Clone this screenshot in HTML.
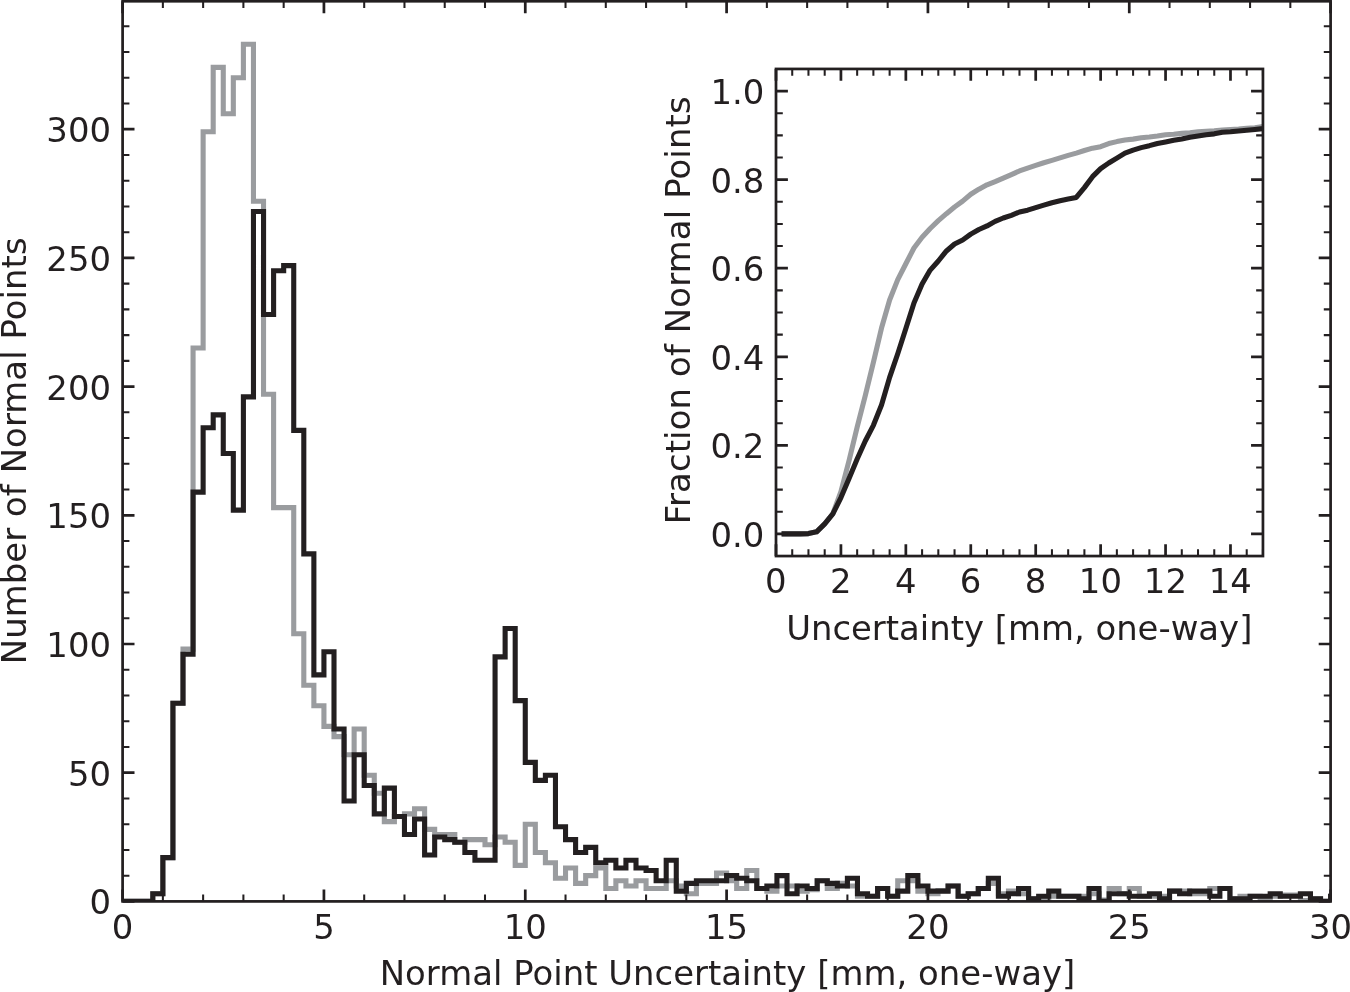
<!DOCTYPE html>
<html><head><meta charset="utf-8"><title>Normal Point Uncertainty</title>
<style>html,body{margin:0;padding:0;background:#fff;overflow:hidden}svg{display:block}</style></head>
<body>
<svg width="1350" height="992" viewBox="0 0 1350 992">
<defs><clipPath id="cm"><rect x="122.6" y="1.26" width="1208.0" height="900.14"/></clipPath>
<clipPath id="ci"><rect x="776.0" y="68.95" width="486.95000000000005" height="487.09999999999997"/></clipPath></defs>
<rect width="1350" height="992" fill="#fff"/>
<g clip-path="url(#cm)" fill="none" stroke-width="5.1" stroke-linejoin="miter" stroke-linecap="butt">
<path d="M122.60 901.40 L122.60 901.40 L132.67 901.40 L132.67 901.40 L142.73 901.40 L142.73 901.40 L152.80 901.40 L152.80 893.68 L162.87 893.68 L162.87 857.64 L172.93 857.64 L172.93 703.20 L183.00 703.20 L183.00 649.15 L193.07 649.15 L193.07 347.99 L203.13 347.99 L203.13 131.77 L213.20 131.77 L213.20 67.42 L223.27 67.42 L223.27 113.76 L233.33 113.76 L233.33 77.72 L243.40 77.72 L243.40 44.26 L253.47 44.26 L253.47 201.27 L263.53 201.27 L263.53 394.32 L273.60 394.32 L273.60 507.58 L283.67 507.58 L283.67 507.58 L293.73 507.58 L293.73 633.70 L303.80 633.70 L303.80 685.18 L313.87 685.18 L313.87 705.78 L323.93 705.78 L323.93 726.37 L334.00 726.37 L334.00 736.66 L344.07 736.66 L344.07 754.68 L354.13 754.68 L354.13 728.94 L364.20 728.94 L364.20 775.27 L374.27 775.27 L374.27 793.29 L384.33 793.29 L384.33 821.61 L394.40 821.61 L394.40 816.46 L404.47 816.46 L404.47 813.88 L414.53 813.88 L414.53 808.74 L424.60 808.74 L424.60 829.33 L434.67 829.33 L434.67 834.48 L444.73 834.48 L444.73 834.48 L454.80 834.48 L454.80 842.20 L464.87 842.20 L464.87 839.62 L474.93 839.62 L474.93 839.62 L485.00 839.62 L485.00 844.77 L495.07 844.77 L495.07 837.05 L505.13 837.05 L505.13 842.20 L515.20 842.20 L515.20 865.36 L525.27 865.36 L525.27 824.18 L535.33 824.18 L535.33 852.49 L545.40 852.49 L545.40 862.79 L555.47 862.79 L555.47 878.23 L565.53 878.23 L565.53 867.94 L575.60 867.94 L575.60 883.38 L585.67 883.38 L585.67 875.66 L595.73 875.66 L595.73 867.94 L605.80 867.94 L605.80 888.53 L615.87 888.53 L615.87 880.81 L625.93 880.81 L625.93 885.96 L636.00 885.96 L636.00 880.81 L646.07 880.81 L646.07 888.53 L656.13 888.53 L656.13 888.53 L666.20 888.53 L666.20 880.81 L676.27 880.81 L676.27 885.96 L686.33 885.96 L686.33 893.68 L696.40 893.68 L696.40 883.38 L706.47 883.38 L706.47 883.38 L716.53 883.38 L716.53 873.09 L726.60 873.09 L726.60 880.81 L736.67 880.81 L736.67 888.53 L746.73 888.53 L746.73 870.51 L756.80 870.51 L756.80 888.53 L766.87 888.53 L766.87 891.10 L776.93 891.10 L776.93 885.96 L787.00 885.96 L787.00 885.96 L797.07 885.96 L797.07 891.10 L807.13 891.10 L807.13 889.82 L817.20 889.82 L817.20 880.81 L827.27 880.81 L827.27 888.53 L837.33 888.53 L837.33 883.38 L847.40 883.38 L847.40 885.96 L857.47 885.96 L857.47 896.25 L867.53 896.25 L867.53 896.25 L877.60 896.25 L877.60 888.53 L887.67 888.53 L887.67 896.25 L897.73 896.25 L897.73 880.81 L907.80 880.81 L907.80 880.81 L917.87 880.81 L917.87 891.10 L927.93 891.10 L927.93 893.68 L938.00 893.68 L938.00 890.59 L948.07 890.59 L948.07 885.96 L958.13 885.96 L958.13 896.25 L968.20 896.25 L968.20 893.68 L978.27 893.68 L978.27 888.53 L988.33 888.53 L988.33 883.38 L998.40 883.38 L998.40 893.68 L1008.47 893.68 L1008.47 891.10 L1018.53 891.10 L1018.53 893.68 L1028.60 893.68 L1028.60 898.83 L1038.67 898.83 L1038.67 898.83 L1048.73 898.83 L1048.73 896.25 L1058.80 896.25 L1058.80 896.25 L1068.87 896.25 L1068.87 896.25 L1078.93 896.25 L1078.93 896.25 L1089.00 896.25 L1089.00 893.68 L1099.07 893.68 L1099.07 900.11 L1109.13 900.11 L1109.13 888.53 L1119.20 888.53 L1119.20 893.68 L1129.27 893.68 L1129.27 888.53 L1139.33 888.53 L1139.33 896.25 L1149.40 896.25 L1149.40 896.25 L1159.47 896.25 L1159.47 896.25 L1169.53 896.25 L1169.53 891.10 L1179.60 891.10 L1179.60 891.10 L1189.67 891.10 L1189.67 893.68 L1199.73 893.68 L1199.73 893.68 L1209.80 893.68 L1209.80 888.53 L1219.87 888.53 L1219.87 888.53 L1229.93 888.53 L1229.93 898.83 L1240.00 898.83 L1240.00 896.25 L1250.07 896.25 L1250.07 896.25 L1260.13 896.25 L1260.13 898.83 L1270.20 898.83 L1270.20 896.25 L1280.27 896.25 L1280.27 894.97 L1290.33 894.97 L1290.33 894.97 L1300.40 894.97 L1300.40 900.63 L1310.47 900.63 L1310.47 898.83 L1320.53 898.83 L1320.53 901.40 L1330.60 901.40 L1330.60 896.25 L1340.67 896.25 L1340.67 901.40" stroke="#9a9c9f"/>
<path d="M122.60 901.40 L122.60 901.40 L132.67 901.40 L132.67 901.40 L142.73 901.40 L142.73 901.40 L152.80 901.40 L152.80 893.68 L162.87 893.68 L162.87 857.64 L172.93 857.64 L172.93 703.20 L183.00 703.20 L183.00 654.30 L193.07 654.30 L193.07 492.13 L203.13 492.13 L203.13 427.78 L213.20 427.78 L213.20 414.91 L223.27 414.91 L223.27 453.52 L233.33 453.52 L233.33 510.15 L243.40 510.15 L243.40 396.90 L253.47 396.90 L253.47 211.57 L263.53 211.57 L263.53 314.53 L273.60 314.53 L273.60 270.77 L283.67 270.77 L283.67 265.62 L293.73 265.62 L293.73 430.36 L303.80 430.36 L303.80 553.91 L313.87 553.91 L313.87 674.89 L323.93 674.89 L323.93 651.72 L334.00 651.72 L334.00 728.94 L344.07 728.94 L344.07 801.01 L354.13 801.01 L354.13 754.68 L364.20 754.68 L364.20 785.57 L374.27 785.57 L374.27 813.88 L384.33 813.88 L384.33 788.14 L394.40 788.14 L394.40 816.46 L404.47 816.46 L404.47 834.48 L414.53 834.48 L414.53 819.03 L424.60 819.03 L424.60 855.07 L434.67 855.07 L434.67 837.05 L444.73 837.05 L444.73 839.62 L454.80 839.62 L454.80 842.20 L464.87 842.20 L464.87 852.49 L474.93 852.49 L474.93 860.22 L485.00 860.22 L485.00 860.22 L495.07 860.22 L495.07 656.87 L505.13 656.87 L505.13 628.56 L515.20 628.56 L515.20 700.63 L525.27 700.63 L525.27 762.40 L535.33 762.40 L535.33 780.42 L545.40 780.42 L545.40 775.27 L555.47 775.27 L555.47 826.75 L565.53 826.75 L565.53 839.62 L575.60 839.62 L575.60 852.49 L585.67 852.49 L585.67 847.35 L595.73 847.35 L595.73 862.79 L605.80 862.79 L605.80 860.22 L615.87 860.22 L615.87 867.94 L625.93 867.94 L625.93 860.22 L636.00 860.22 L636.00 867.94 L646.07 867.94 L646.07 870.51 L656.13 870.51 L656.13 880.81 L666.20 880.81 L666.20 860.22 L676.27 860.22 L676.27 891.10 L686.33 891.10 L686.33 883.38 L696.40 883.38 L696.40 880.81 L706.47 880.81 L706.47 880.81 L716.53 880.81 L716.53 880.81 L726.60 880.81 L726.60 875.66 L736.67 875.66 L736.67 878.23 L746.73 878.23 L746.73 880.81 L756.80 880.81 L756.80 888.53 L766.87 888.53 L766.87 885.96 L776.93 885.96 L776.93 875.66 L787.00 875.66 L787.00 893.68 L797.07 893.68 L797.07 885.96 L807.13 885.96 L807.13 888.53 L817.20 888.53 L817.20 880.81 L827.27 880.81 L827.27 883.38 L837.33 883.38 L837.33 885.96 L847.40 885.96 L847.40 878.23 L857.47 878.23 L857.47 893.68 L867.53 893.68 L867.53 896.25 L877.60 896.25 L877.60 888.53 L887.67 888.53 L887.67 896.25 L897.73 896.25 L897.73 891.10 L907.80 891.10 L907.80 875.66 L917.87 875.66 L917.87 885.96 L927.93 885.96 L927.93 891.10 L938.00 891.10 L938.00 891.10 L948.07 891.10 L948.07 885.96 L958.13 885.96 L958.13 896.25 L968.20 896.25 L968.20 893.68 L978.27 893.68 L978.27 888.53 L988.33 888.53 L988.33 878.23 L998.40 878.23 L998.40 896.25 L1008.47 896.25 L1008.47 893.68 L1018.53 893.68 L1018.53 888.53 L1028.60 888.53 L1028.60 898.83 L1038.67 898.83 L1038.67 896.25 L1048.73 896.25 L1048.73 891.10 L1058.80 891.10 L1058.80 896.25 L1068.87 896.25 L1068.87 896.25 L1078.93 896.25 L1078.93 898.83 L1089.00 898.83 L1089.00 888.53 L1099.07 888.53 L1099.07 901.40 L1109.13 901.40 L1109.13 893.68 L1119.20 893.68 L1119.20 893.68 L1129.27 893.68 L1129.27 896.25 L1139.33 896.25 L1139.33 896.25 L1149.40 896.25 L1149.40 893.68 L1159.47 893.68 L1159.47 898.83 L1169.53 898.83 L1169.53 891.10 L1179.60 891.10 L1179.60 893.68 L1189.67 893.68 L1189.67 891.10 L1199.73 891.10 L1199.73 891.10 L1209.80 891.10 L1209.80 896.25 L1219.87 896.25 L1219.87 888.53 L1229.93 888.53 L1229.93 898.83 L1240.00 898.83 L1240.00 898.83 L1250.07 898.83 L1250.07 896.25 L1260.13 896.25 L1260.13 896.25 L1270.20 896.25 L1270.20 893.68 L1280.27 893.68 L1280.27 896.25 L1290.33 896.25 L1290.33 896.25 L1300.40 896.25 L1300.40 893.68 L1310.47 893.68 L1310.47 898.83 L1320.53 898.83 L1320.53 901.40 L1330.60 901.40 L1330.60 896.25 L1340.67 896.25 L1340.67 901.40" stroke="#231f20"/>
</g>
<path d="M122.60 901.4 v-11.9 M122.60 1.26 v11.9 M323.93 901.4 v-11.9 M323.93 1.26 v11.9 M525.27 901.4 v-11.9 M525.27 1.26 v11.9 M726.60 901.4 v-11.9 M726.60 1.26 v11.9 M927.93 901.4 v-11.9 M927.93 1.26 v11.9 M1129.27 901.4 v-11.9 M1129.27 1.26 v11.9 M1330.60 901.4 v-11.9 M1330.60 1.26 v11.9 M122.6 901.40 h11.9 M1330.6 901.40 h-11.9 M122.6 772.70 h11.9 M1330.6 772.70 h-11.9 M122.6 644.00 h11.9 M1330.6 644.00 h-11.9 M122.6 515.30 h11.9 M1330.6 515.30 h-11.9 M122.6 386.60 h11.9 M1330.6 386.60 h-11.9 M122.6 257.90 h11.9 M1330.6 257.90 h-11.9 M122.6 129.20 h11.9 M1330.6 129.20 h-11.9" stroke="#231f20" stroke-width="2.72" fill="none"/>
<path d="M162.87 901.4 v-6.8 M162.87 1.26 v6.8 M203.13 901.4 v-6.8 M203.13 1.26 v6.8 M243.40 901.4 v-6.8 M243.40 1.26 v6.8 M283.67 901.4 v-6.8 M283.67 1.26 v6.8 M364.20 901.4 v-6.8 M364.20 1.26 v6.8 M404.47 901.4 v-6.8 M404.47 1.26 v6.8 M444.73 901.4 v-6.8 M444.73 1.26 v6.8 M485.00 901.4 v-6.8 M485.00 1.26 v6.8 M565.53 901.4 v-6.8 M565.53 1.26 v6.8 M605.80 901.4 v-6.8 M605.80 1.26 v6.8 M646.07 901.4 v-6.8 M646.07 1.26 v6.8 M686.33 901.4 v-6.8 M686.33 1.26 v6.8 M766.87 901.4 v-6.8 M766.87 1.26 v6.8 M807.13 901.4 v-6.8 M807.13 1.26 v6.8 M847.40 901.4 v-6.8 M847.40 1.26 v6.8 M887.67 901.4 v-6.8 M887.67 1.26 v6.8 M968.20 901.4 v-6.8 M968.20 1.26 v6.8 M1008.47 901.4 v-6.8 M1008.47 1.26 v6.8 M1048.73 901.4 v-6.8 M1048.73 1.26 v6.8 M1089.00 901.4 v-6.8 M1089.00 1.26 v6.8 M1169.53 901.4 v-6.8 M1169.53 1.26 v6.8 M1209.80 901.4 v-6.8 M1209.80 1.26 v6.8 M1250.07 901.4 v-6.8 M1250.07 1.26 v6.8 M1290.33 901.4 v-6.8 M1290.33 1.26 v6.8 M122.6 875.66 h6.8 M1330.6 875.66 h-6.8 M122.6 849.92 h6.8 M1330.6 849.92 h-6.8 M122.6 824.18 h6.8 M1330.6 824.18 h-6.8 M122.6 798.44 h6.8 M1330.6 798.44 h-6.8 M122.6 746.96 h6.8 M1330.6 746.96 h-6.8 M122.6 721.22 h6.8 M1330.6 721.22 h-6.8 M122.6 695.48 h6.8 M1330.6 695.48 h-6.8 M122.6 669.74 h6.8 M1330.6 669.74 h-6.8 M122.6 618.26 h6.8 M1330.6 618.26 h-6.8 M122.6 592.52 h6.8 M1330.6 592.52 h-6.8 M122.6 566.78 h6.8 M1330.6 566.78 h-6.8 M122.6 541.04 h6.8 M1330.6 541.04 h-6.8 M122.6 489.56 h6.8 M1330.6 489.56 h-6.8 M122.6 463.82 h6.8 M1330.6 463.82 h-6.8 M122.6 438.08 h6.8 M1330.6 438.08 h-6.8 M122.6 412.34 h6.8 M1330.6 412.34 h-6.8 M122.6 360.86 h6.8 M1330.6 360.86 h-6.8 M122.6 335.12 h6.8 M1330.6 335.12 h-6.8 M122.6 309.38 h6.8 M1330.6 309.38 h-6.8 M122.6 283.64 h6.8 M1330.6 283.64 h-6.8 M122.6 232.16 h6.8 M1330.6 232.16 h-6.8 M122.6 206.42 h6.8 M1330.6 206.42 h-6.8 M122.6 180.68 h6.8 M1330.6 180.68 h-6.8 M122.6 154.94 h6.8 M1330.6 154.94 h-6.8 M122.6 103.46 h6.8 M1330.6 103.46 h-6.8 M122.6 77.72 h6.8 M1330.6 77.72 h-6.8 M122.6 51.98 h6.8 M1330.6 51.98 h-6.8 M122.6 26.24 h6.8 M1330.6 26.24 h-6.8" stroke="#231f20" stroke-width="2.04" fill="none"/>
<rect x="122.6" y="1.26" width="1208.0" height="900.14" fill="none" stroke="#231f20" stroke-width="2.72"/>
<g font-family="'DejaVu Sans', 'Liberation Sans', sans-serif" font-size="33.87" fill="#231f20">
<text x="122.6" y="939.2" text-anchor="middle">0</text>
<text x="323.9" y="939.2" text-anchor="middle">5</text>
<text x="525.3" y="939.2" text-anchor="middle">10</text>
<text x="726.6" y="939.2" text-anchor="middle">15</text>
<text x="927.9" y="939.2" text-anchor="middle">20</text>
<text x="1129.3" y="939.2" text-anchor="middle">25</text>
<text x="1330.6" y="939.2" text-anchor="middle">30</text>
<text x="111" y="914.3" text-anchor="end">0</text>
<text x="111" y="785.6" text-anchor="end">50</text>
<text x="111" y="656.9" text-anchor="end">100</text>
<text x="111" y="528.2" text-anchor="end">150</text>
<text x="111" y="399.5" text-anchor="end">200</text>
<text x="111" y="270.8" text-anchor="end">250</text>
<text x="111" y="142.1" text-anchor="end">300</text>
<text x="727.5" y="984.85" text-anchor="middle" letter-spacing="0.032">Normal Point Uncertainty [mm, one-way]</text>
<text transform="translate(26 450.8) rotate(-90)" text-anchor="middle" letter-spacing="0.073">Number of Normal Points</text>
<text x="775.8" y="592.9" text-anchor="middle">0</text>
<text x="840.7" y="592.9" text-anchor="middle">2</text>
<text x="905.7" y="592.9" text-anchor="middle">4</text>
<text x="970.6" y="592.9" text-anchor="middle">6</text>
<text x="1035.5" y="592.9" text-anchor="middle">8</text>
<text x="1100.4" y="592.9" text-anchor="middle">10</text>
<text x="1165.4" y="592.9" text-anchor="middle">12</text>
<text x="1230.3" y="592.9" text-anchor="middle">14</text>
<text x="764.4" y="546.7" text-anchor="end">0.0</text>
<text x="764.4" y="458.1" text-anchor="end">0.2</text>
<text x="764.4" y="369.6" text-anchor="end">0.4</text>
<text x="764.4" y="281.0" text-anchor="end">0.6</text>
<text x="764.4" y="192.5" text-anchor="end">0.8</text>
<text x="764.4" y="103.9" text-anchor="end">1.0</text>
<text x="1019.25" y="640.3" text-anchor="middle">Uncertainty [mm, one-way]</text>
<text transform="translate(690 310.25) rotate(-90)" text-anchor="middle" letter-spacing="0.146">Fraction of Normal Points</text>
</g>
<g clip-path="url(#ci)" fill="none" stroke-width="5.1" stroke-linejoin="round" stroke-linecap="square">
<path d="M784.12 533.91 L792.23 533.91 L800.35 533.91 L808.46 533.60 L816.58 531.84 L824.70 523.88 L832.81 513.76 L840.93 491.54 L849.04 460.64 L857.16 427.16 L865.27 395.53 L873.39 362.47 L881.51 328.05 L889.62 299.94 L897.74 279.59 L905.85 263.77 L913.97 247.96 L922.09 237.22 L930.20 228.54 L938.32 220.68 L946.43 213.65 L954.55 207.04 L962.66 201.15 L970.78 194.23 L978.90 189.16 L987.01 184.82 L995.13 181.62 L1003.24 178.21 L1011.36 174.69 L1019.48 170.97 L1027.59 168.08 L1035.71 165.39 L1043.82 162.71 L1051.94 160.33 L1060.05 157.85 L1068.17 155.37 L1076.29 153.10 L1084.40 150.51 L1092.52 148.14 L1100.63 146.69 L1108.75 143.59 L1116.87 141.62 L1124.98 140.07 L1133.10 139.14 L1141.21 137.80 L1149.33 137.08 L1157.44 136.04 L1165.56 134.70 L1173.68 134.18 L1181.79 133.36 L1189.91 132.74 L1198.02 131.91 L1206.14 131.39 L1214.26 130.88 L1222.37 130.05 L1230.49 129.43 L1238.60 129.12 L1246.72 128.40 L1254.83 127.67 L1262.95 126.54 L1271.07 125.71 L1279.18 125.19" stroke="#9a9c9f"/>
<path d="M784.12 533.91 L792.23 533.91 L800.35 533.91 L808.46 533.60 L816.58 531.84 L824.70 523.88 L832.81 513.96 L840.93 497.53 L849.04 478.52 L857.16 458.99 L865.27 441.01 L873.39 425.30 L881.51 405.04 L889.62 377.35 L897.74 353.78 L905.85 328.47 L913.97 302.94 L922.09 284.03 L930.20 270.08 L938.32 260.98 L946.43 250.96 L954.55 244.04 L962.66 240.01 L970.78 234.12 L978.90 229.47 L987.01 225.95 L995.13 221.40 L1003.24 217.99 L1011.36 215.31 L1019.48 212.00 L1027.59 210.14 L1035.71 207.56 L1043.82 205.08 L1051.94 202.70 L1060.05 200.74 L1068.17 199.08 L1076.29 197.43 L1084.40 187.61 L1092.52 176.66 L1100.63 168.60 L1108.75 163.02 L1116.87 158.16 L1124.98 153.10 L1133.10 150.10 L1141.21 147.62 L1149.33 145.66 L1157.44 143.49 L1165.56 141.93 L1173.68 140.28 L1181.79 138.94 L1189.91 137.28 L1198.02 135.94 L1206.14 134.70 L1214.26 133.87 L1222.37 132.22 L1230.49 131.81 L1238.60 131.08 L1246.72 130.26 L1254.83 129.43 L1262.95 128.60 L1271.07 127.57 L1279.18 126.64" stroke="#231f20"/>
</g>
<path d="M776.00 556.05 v-11.9 M776.00 68.95 v11.9 M840.93 556.05 v-11.9 M840.93 68.95 v11.9 M905.85 556.05 v-11.9 M905.85 68.95 v11.9 M970.78 556.05 v-11.9 M970.78 68.95 v11.9 M1035.71 556.05 v-11.9 M1035.71 68.95 v11.9 M1100.63 556.05 v-11.9 M1100.63 68.95 v11.9 M1165.56 556.05 v-11.9 M1165.56 68.95 v11.9 M1230.49 556.05 v-11.9 M1230.49 68.95 v11.9 M776.0 533.91 h11.9 M1262.95 533.91 h-11.9 M776.0 445.35 h11.9 M1262.95 445.35 h-11.9 M776.0 356.78 h11.9 M1262.95 356.78 h-11.9 M776.0 268.22 h11.9 M1262.95 268.22 h-11.9 M776.0 179.65 h11.9 M1262.95 179.65 h-11.9 M776.0 91.09 h11.9 M1262.95 91.09 h-11.9" stroke="#231f20" stroke-width="2.72" fill="none"/>
<path d="M792.23 556.05 v-6.8 M792.23 68.95 v6.8 M808.46 556.05 v-6.8 M808.46 68.95 v6.8 M824.70 556.05 v-6.8 M824.70 68.95 v6.8 M857.16 556.05 v-6.8 M857.16 68.95 v6.8 M873.39 556.05 v-6.8 M873.39 68.95 v6.8 M889.62 556.05 v-6.8 M889.62 68.95 v6.8 M922.09 556.05 v-6.8 M922.09 68.95 v6.8 M938.32 556.05 v-6.8 M938.32 68.95 v6.8 M954.55 556.05 v-6.8 M954.55 68.95 v6.8 M987.01 556.05 v-6.8 M987.01 68.95 v6.8 M1003.24 556.05 v-6.8 M1003.24 68.95 v6.8 M1019.48 556.05 v-6.8 M1019.48 68.95 v6.8 M1051.94 556.05 v-6.8 M1051.94 68.95 v6.8 M1068.17 556.05 v-6.8 M1068.17 68.95 v6.8 M1084.40 556.05 v-6.8 M1084.40 68.95 v6.8 M1116.87 556.05 v-6.8 M1116.87 68.95 v6.8 M1133.10 556.05 v-6.8 M1133.10 68.95 v6.8 M1149.33 556.05 v-6.8 M1149.33 68.95 v6.8 M1181.79 556.05 v-6.8 M1181.79 68.95 v6.8 M1198.02 556.05 v-6.8 M1198.02 68.95 v6.8 M1214.26 556.05 v-6.8 M1214.26 68.95 v6.8 M1246.72 556.05 v-6.8 M1246.72 68.95 v6.8 M1262.95 556.05 v-6.8 M1262.95 68.95 v6.8 M776.0 511.77 h6.8 M1262.95 511.77 h-6.8 M776.0 489.63 h6.8 M1262.95 489.63 h-6.8 M776.0 467.49 h6.8 M1262.95 467.49 h-6.8 M776.0 423.20 h6.8 M1262.95 423.20 h-6.8 M776.0 401.06 h6.8 M1262.95 401.06 h-6.8 M776.0 378.92 h6.8 M1262.95 378.92 h-6.8 M776.0 334.64 h6.8 M1262.95 334.64 h-6.8 M776.0 312.50 h6.8 M1262.95 312.50 h-6.8 M776.0 290.36 h6.8 M1262.95 290.36 h-6.8 M776.0 246.08 h6.8 M1262.95 246.08 h-6.8 M776.0 223.94 h6.8 M1262.95 223.94 h-6.8 M776.0 201.80 h6.8 M1262.95 201.80 h-6.8 M776.0 157.51 h6.8 M1262.95 157.51 h-6.8 M776.0 135.37 h6.8 M1262.95 135.37 h-6.8 M776.0 113.23 h6.8 M1262.95 113.23 h-6.8" stroke="#231f20" stroke-width="2.04" fill="none"/>
<rect x="776.0" y="68.95" width="486.95" height="487.10" fill="none" stroke="#231f20" stroke-width="2.72"/>
</svg>
</body></html>
